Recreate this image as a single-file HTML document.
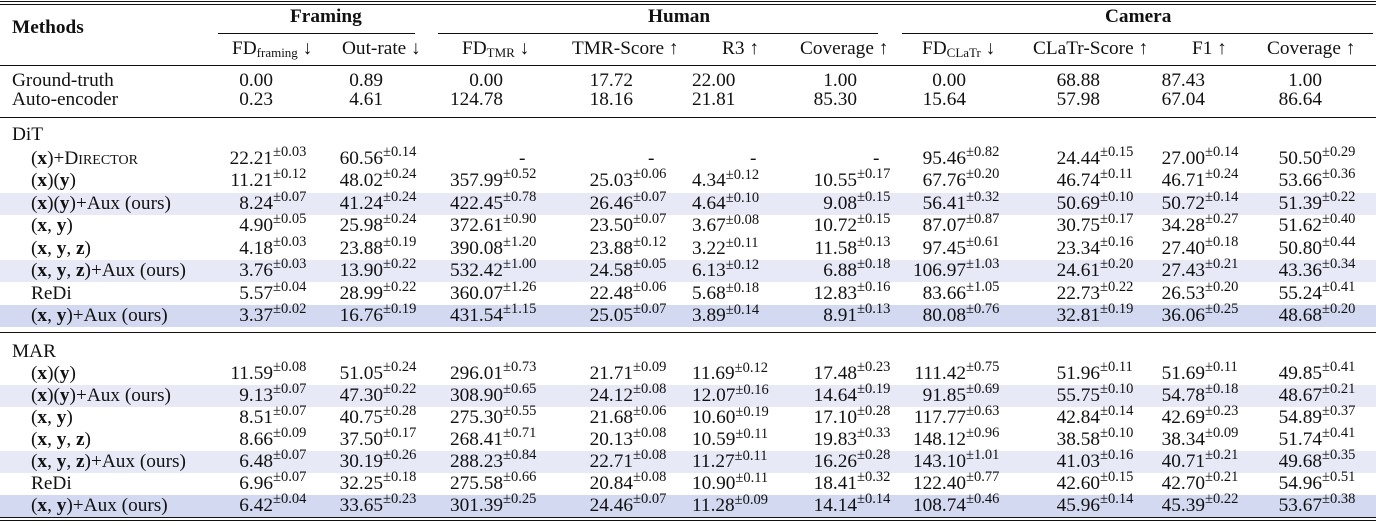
<!DOCTYPE html>
<html><head><meta charset="utf-8">
<style>
body{margin:0;background:#fff;}
#t{position:relative;width:1376px;height:526px;overflow:hidden;font-family:"Liberation Serif",serif;font-size:19.3px;color:#111;}
.r{position:absolute;left:0;width:1376px;height:22px;line-height:22px;}
.b1{background:#e7e9f7;}
.b2{background:#d3d9f0;}
.hl{position:absolute;left:0;width:1376px;height:1px;background:#111;}
.cm{position:absolute;height:1px;background:#111;top:33px;}
.c{position:absolute;width:0;top:0;height:22px;}
.n{position:absolute;right:0;white-space:nowrap;}
.nl{position:absolute;left:0;white-space:nowrap;}
.s{position:absolute;left:0;top:-7px;font-size:14.5px;white-space:nowrap;}
.m{position:absolute;white-space:nowrap;}
.t{position:absolute;white-space:nowrap;line-height:22px;}
b.v{font-weight:bold;}
.sc{font-variant:small-caps;}
sub{font-size:13px;vertical-align:-3px;line-height:0;}
</style></head><body><div id="t">
<div class="hl" style="top:1px"></div><div class="hl" style="top:4px"></div>
<div class="hl" style="top:65px"></div>
<div class="hl" style="top:117px"></div>
<div class="hl" style="top:332px"></div>
<div class="hl" style="top:517px"></div><div class="hl" style="top:520px"></div>
<div class="cm" style="left:218px;width:197px"></div>
<div class="cm" style="left:438px;width:440px"></div>
<div class="cm" style="left:902px;width:471px"></div>

<div class="t" style="left:12px;top:17px;font-weight:bold">Methods</div>
<div class="t" style="left:290px;top:6px;font-weight:bold">Framing</div>
<div class="t" style="left:648px;top:6px;font-weight:bold">Human</div>
<div class="t" style="left:1105px;top:6px;font-weight:bold">Camera</div>
<div class="t" style="left:232px;top:38px">FD<sub>framing</sub> ↓</div>
<div class="t" style="left:342px;top:38px">Out-rate ↓</div>
<div class="t" style="left:462px;top:38px">FD<sub>TMR</sub> ↓</div>
<div class="t" style="left:572px;top:38px">TMR-Score ↑</div>
<div class="t" style="left:722px;top:38px">R3 ↑</div>
<div class="t" style="left:800px;top:38px">Coverage ↑</div>
<div class="t" style="left:922px;top:38px">FD<sub>CLaTr</sub> ↓</div>
<div class="t" style="left:1033px;top:38px">CLaTr-Score ↑</div>
<div class="t" style="left:1192px;top:38px">F1 ↑</div>
<div class="t" style="left:1267px;top:38px">Coverage ↑</div>

<div id="rows"></div>
</div>
<script>
var R=[273,383,503,633,692,857,966,1100,1205,1322];
var rows=[
[81,'','Ground-truth',12,['0.00','0.89','0.00','17.72','22.00','1.00','0.00','68.88','87.43','1.00']],
[100,'','Auto-encoder',12,['0.23','4.61','124.78','18.16','21.81','85.30','15.64','57.98','67.04','86.64']],
[135,'','DiT',12,null],
[159,'','(<b class="v">x</b>)+<span class="sc">Director</span>',31,['22.21|0.03','60.56|0.14','-','-','-','-','95.46|0.82','24.44|0.15','27.00|0.14','50.50|0.29']],
[181,'','(<b class="v">x</b>)(<b class="v">y</b>)',31,['11.21|0.12','48.02|0.24','357.99|0.52','25.03|0.06','4.34|0.12','10.55|0.17','67.76|0.20','46.74|0.11','46.71|0.24','53.66|0.36']],
[204,'b1','(<b class="v">x</b>)(<b class="v">y</b>)+Aux (ours)',31,['8.24|0.07','41.24|0.24','422.45|0.78','26.46|0.07','4.64|0.10','9.08|0.15','56.41|0.32','50.69|0.10','50.72|0.14','51.39|0.22']],
[226,'','(<b class="v">x</b>, <b class="v">y</b>)',31,['4.90|0.05','25.98|0.24','372.61|0.90','23.50|0.07','3.67|0.08','10.72|0.15','87.07|0.87','30.75|0.17','34.28|0.27','51.62|0.40']],
[249,'','(<b class="v">x</b>, <b class="v">y</b>, <b class="v">z</b>)',31,['4.18|0.03','23.88|0.19','390.08|1.20','23.88|0.12','3.22|0.11','11.58|0.13','97.45|0.61','23.34|0.16','27.40|0.18','50.80|0.44']],
[271,'b1','(<b class="v">x</b>, <b class="v">y</b>, <b class="v">z</b>)+Aux (ours)',31,['3.76|0.03','13.90|0.22','532.42|1.00','24.58|0.05','6.13|0.12','6.88|0.18','106.97|1.03','24.61|0.20','27.43|0.21','43.36|0.34']],
[294,'','ReDi',31,['5.57|0.04','28.99|0.22','360.07|1.26','22.48|0.06','5.68|0.18','12.83|0.16','83.66|1.05','22.73|0.22','26.53|0.20','55.24|0.41']],
[316,'b2','(<b class="v">x</b>, <b class="v">y</b>)+Aux (ours)',31,['3.37|0.02','16.76|0.19','431.54|1.15','25.05|0.07','3.89|0.14','8.91|0.13','80.08|0.76','32.81|0.19','36.06|0.25','48.68|0.20']],
[352,'','MAR',12,null],
[374,'','(<b class="v">x</b>)(<b class="v">y</b>)',31,['11.59|0.08','51.05|0.24','296.01|0.73','21.71|0.09','11.69|0.12','17.48|0.23','111.42|0.75','51.96|0.11','51.69|0.11','49.85|0.41']],
[396,'b1','(<b class="v">x</b>)(<b class="v">y</b>)+Aux (ours)',31,['9.13|0.07','47.30|0.22','308.90|0.65','24.12|0.08','12.07|0.16','14.64|0.19','91.85|0.69','55.75|0.10','54.78|0.18','48.67|0.21']],
[418,'','(<b class="v">x</b>, <b class="v">y</b>)',31,['8.51|0.07','40.75|0.28','275.30|0.55','21.68|0.06','10.60|0.19','17.10|0.28','117.77|0.63','42.84|0.14','42.69|0.23','54.89|0.37']],
[440,'','(<b class="v">x</b>, <b class="v">y</b>, <b class="v">z</b>)',31,['8.66|0.09','37.50|0.17','268.41|0.71','20.13|0.08','10.59|0.11','19.83|0.33','148.12|0.96','38.58|0.10','38.34|0.09','51.74|0.41']],
[462,'b1','(<b class="v">x</b>, <b class="v">y</b>, <b class="v">z</b>)+Aux (ours)',31,['6.48|0.07','30.19|0.26','288.23|0.84','22.71|0.08','11.27|0.11','16.26|0.28','143.10|1.01','41.03|0.16','40.71|0.21','49.68|0.35']],
[484,'','ReDi',31,['6.96|0.07','32.25|0.18','275.58|0.66','20.84|0.08','10.90|0.11','18.41|0.32','122.40|0.77','42.60|0.15','42.70|0.21','54.96|0.51']],
[506,'b2','(<b class="v">x</b>, <b class="v">y</b>)+Aux (ours)',31,['6.42|0.04','33.65|0.23','301.39|0.25','24.46|0.07','11.28|0.09','14.14|0.14','108.74|0.46','45.96|0.14','45.39|0.22','53.67|0.38']]
];
var dashX=[0,0,519,648,750,873];
var h='';
rows.forEach(function(r){
  h+='<div class="r '+r[1]+'" style="top:'+(r[0]-11)+'px"><span class="m" style="left:'+r[3]+'px">'+r[2]+'</span>';
  if(r[4]) r[4].forEach(function(v,i){
    if(v==='-'){h+='<span class="m" style="left:'+dashX[i]+'px">-</span>';return;}
    var p=v.split('|');
    if(i==4){
      h+='<span class="c" style="left:'+R[i]+'px"><span class="nl">'+p[0]+(p[1]?'<span style="position:relative;top:-7px;font-size:14.5px">±'+p[1]+'</span>':'')+'</span></span>';
    } else {
      h+='<span class="c" style="left:'+R[i]+'px"><span class="n">'+p[0]+'</span>'+(p[1]?'<span class="s">±'+p[1]+'</span>':'')+'</span>';
    }
  });
  h+='</div>';
});
document.getElementById('rows').innerHTML=h;
</script>
</body></html>
